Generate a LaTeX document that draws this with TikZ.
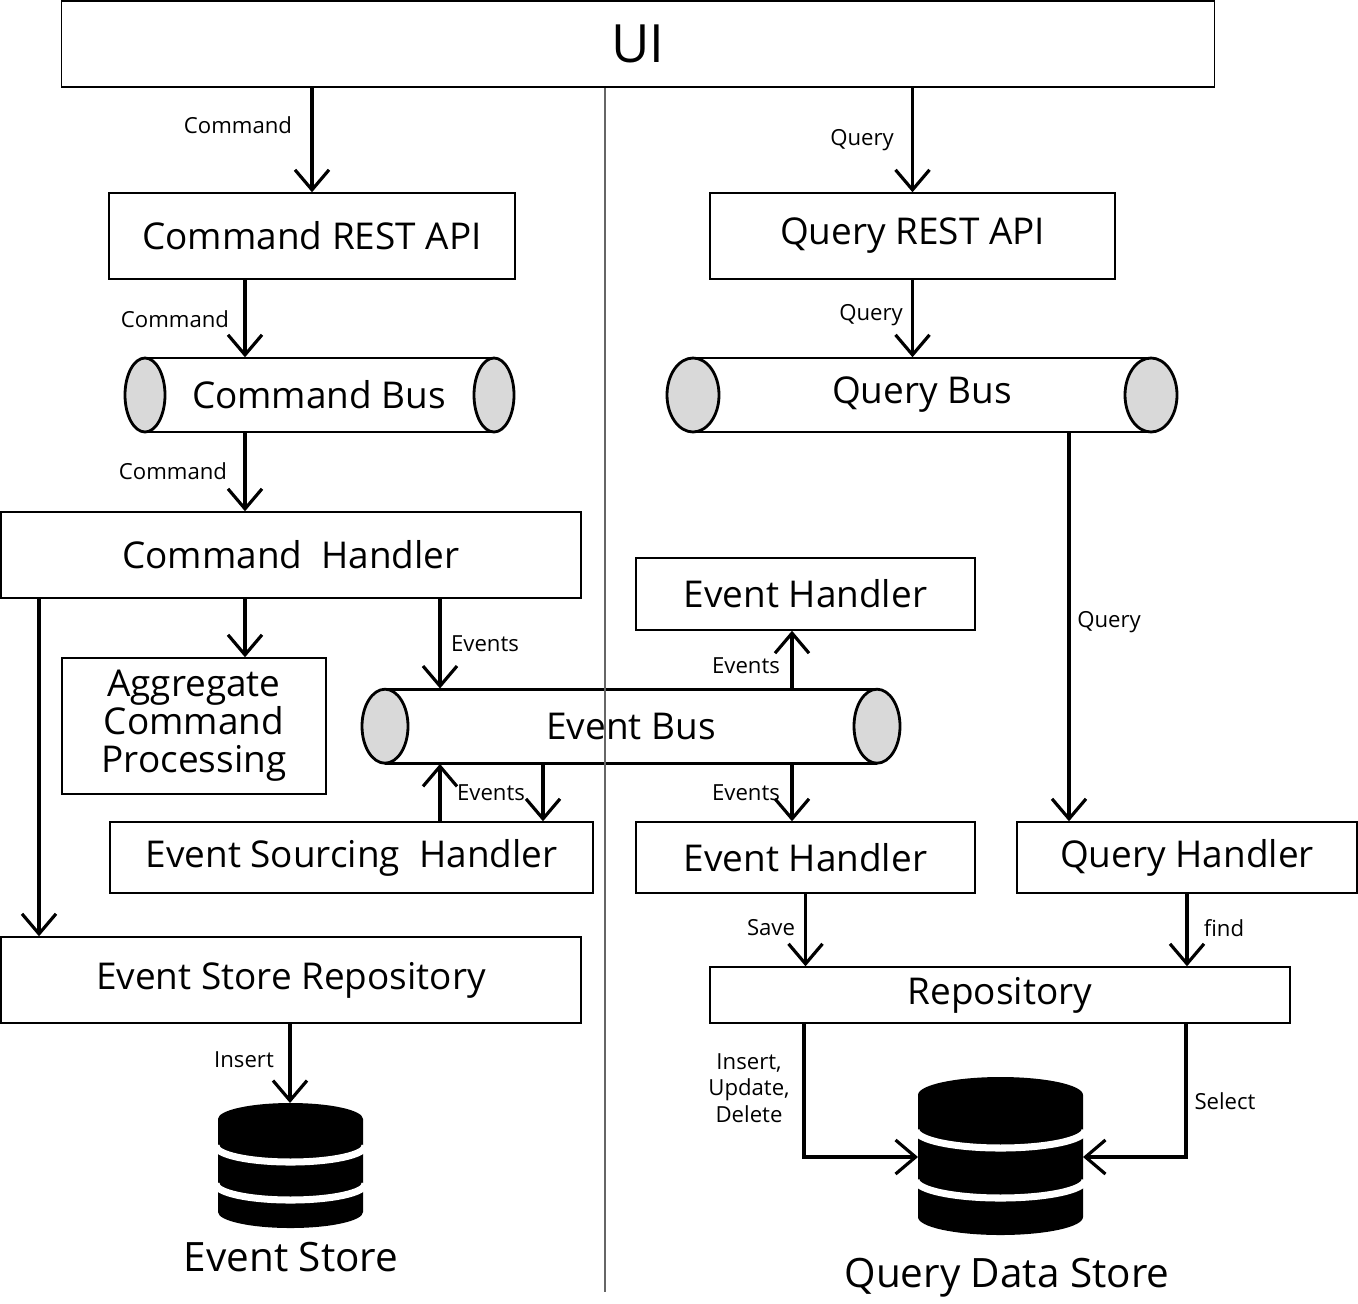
\documentclass[tikz,border=0pt]{standalone}
\usepackage{fontspec}
\setmainfont{Open Sans}
\usetikzlibrary{arrows.meta}
\begin{document}
\begin{tikzpicture}[x=0.01cm,y=-0.01cm,
  box/.style={draw,line width=0.4pt,inner sep=0pt,font=\fontsize{10.5}{10.8}\selectfont,align=center},
  arr/.style={line width=0.9pt,-{Straight Barb[length=2mm,width=3.4mm,line width=0.9pt]}},
  lbl/.style={font=\fontsize{6.3}{7.6}\selectfont,inner sep=0pt,align=center},
  big/.style={font=\fontsize{11.5}{13}\selectfont,inner sep=0pt}]
\useasboundingbox (0,0) rectangle (1358,1303);

% boxes
\node[box,minimum width=11.52cm,minimum height=0.86cm,font=\fontsize{15}{18}\selectfont] (ui) at (638,44) {UI};
\node[box,minimum width=4.06cm,minimum height=0.86cm] (cra) at (312,236) {Command REST API};
\node[box,minimum width=4.05cm,minimum height=0.86cm] (qra) at (912.5,236) {Query REST API};
\node[box,minimum width=5.80cm,minimum height=0.86cm] (ch) at (291,555) {Command~ Handler};
\node[box,minimum width=3.39cm,minimum height=0.72cm] (eh1) at (805.5,594) {Event Handler};
\node[box,minimum width=2.64cm,minimum height=1.36cm,text width=2.4cm] (agg) at (194,726) {Aggregate\\Command\\Processing};
\node[box,minimum width=4.83cm,minimum height=0.71cm] (esh) at (351.5,857.5) {Event Sourcing~ Handler};
\node[box,minimum width=3.39cm,minimum height=0.71cm] (eh2) at (805.5,857.5) {Event Handler};
\node[box,minimum width=3.40cm,minimum height=0.71cm] (qh) at (1187,857.5) {Query Handler};
\node[box,minimum width=5.80cm,minimum height=0.86cm] (esr) at (291,980) {Event Store Repository};
\node[box,minimum width=5.80cm,minimum height=0.56cm] (repo) at (1000,995) {Repository};

% buses
\newcommand{\bus}[6]{% name, left cx, right cx, rx, text x, text
  \draw[line width=0.8pt] (#2,358) -- (#3,358) (#2,432) -- (#3,432);
  \filldraw[fill=gray!30,line width=0.8pt] (#2,395) ellipse [x radius=#4,y radius=37];
  \filldraw[fill=gray!30,line width=0.8pt] (#3,395) ellipse [x radius=#4,y radius=37];
  \node[box,draw=none,minimum height=0.74cm] (#1) at (#5,395) {#6};}
\bus{cb}{145}{494}{20}{319}{Command Bus}
\bus{qb}{693}{1151}{26}{922}{Query Bus}
\begin{scope}[yshift=-3.31cm]
\bus{eb}{385}{877}{23}{631}{Event Bus}
\end{scope}

% database icons
\newcommand{\dbicon}[6]{% cx, rx, ry, top c, bottom c, arcs
  \fill (#1-#2,#4) -- (#1-#2,#5) arc (180:0:#2 and #3) -- (#1+#2,#4) arc (0:-180:#2 and #3) -- cycle;
  \foreach \yy in {#6} \draw[white,line width=2pt] (#1-#2-2,\yy) arc (180:0:#2+2 and #3);}
\dbicon{290.5}{72.5}{16}{1119}{1212}{1146,1184}
\dbicon{1000.5}{82.5}{18}{1095}{1217}{1130,1180}
\node[big] (es) at (291,1257) {Event Store};
\node[big] (qds) at (1007,1278) {Query Data Store};
\coordinate (esdb) at (290,1103);
\coordinate (qdsl) at (918,1157);
\coordinate (qdsr) at (1083,1157);

% columns
\coordinate (x39) at (39,0);
\coordinate (x245) at (245,0);
\coordinate (x440) at (440,0);
\coordinate (x543) at (543,0);
\coordinate (x792) at (792,0);
\coordinate (x804) at (804,0);
\coordinate (x1069) at (1069,0);
\coordinate (x1186) at (1186,0);

% connectors
\draw[arr] (ui.south -| cra) -- (cra.north);
\draw[arr] (ui.south -| qra) -- (qra.north);
\draw[arr] (cra.south -| x245) -- (x245 |- cb.north);
\draw[arr] (qra.south) -- (qra.south |- qb.north);
\draw[arr] (x245 |- cb.south) -- (ch.north -| x245);
\draw[arr] (ch.south -| x39) -- (esr.north -| x39);
\draw[arr] (ch.south -| x245) -- (agg.north -| x245);
\draw[arr] (ch.south -| x440) -- (x440 |- eb.north);
\draw[arr] (x792 |- eb.north) -- (eh1.south -| x792);
\draw[arr] (esh.north -| x440) -- (x440 |- eb.south);
\draw[arr] (x543 |- eb.south) -- (esh.north -| x543);
\draw[arr] (x792 |- eb.south) -- (eh2.north -| x792);
\draw[arr] (x1069 |- qb.south) -- (qh.north -| x1069);
\draw[arr] (eh2.south) -- (repo.north -| eh2);
\draw[arr] (qh.south) -- (repo.north -| qh);
\draw[arr] (esr.south -| esdb) -- (esdb);
\draw[arr] (repo.south -| x804) |- (qdsl);
\draw[arr] (repo.south -| x1186) |- (qdsr);

% labels
\node[lbl] at (238,125) {Command};
\node[lbl] at (862,140) {Query};
\node[lbl] at (175,319) {Command};
\node[lbl] at (871,315) {Query};
\node[lbl] at (173,471) {Command};
\node[lbl] at (485,644) {Events};
\node[lbl] at (746,666) {Events};
\node[lbl] at (491,793) {Events};
\node[lbl] at (746,793) {Events};
\node[lbl] at (1109,622) {Query};
\node[lbl] at (771,928) {Save};
\node[lbl] at (1224,928) {find};
\node[lbl] at (244,1060) {Insert};
\node[lbl] at (749,1088) {Insert,\\Update,\\Delete};
\node[lbl] at (1225,1101) {Select};

% divider
\draw[gray!80!black,line width=0.3pt] (605,88) -- (605,1292);
\end{tikzpicture}
\end{document}
